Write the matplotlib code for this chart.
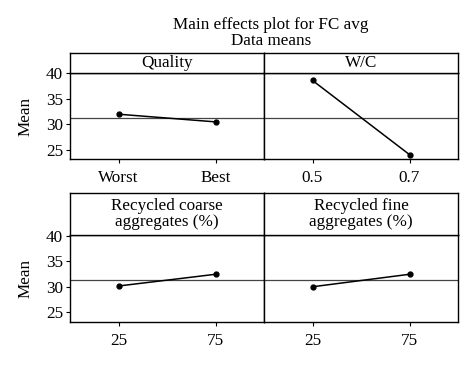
import matplotlib.pyplot as plt

plt.rcParams["font.family"] = ["Liberation Serif", "DejaVu Serif"]

W, H = 474, 367

# data
grand_mean = 31.2
quality_levels = ["Worst", "Best"]
quality_means = [32.0, 30.5]
wc_levels = ["0.5", "0.7"]
wc_means = [38.6, 24.1]
coarse_levels = ["25", "75"]
coarse_means = [30.1, 32.4]
fine_levels = ["25", "75"]
fine_means = [29.95, 32.4]
yticks = [25, 30, 35, 40]

panels = [
    # title, levels, means, row
    ("Quality", quality_levels, quality_means, 0),
    ("W/C", wc_levels, wc_means, 0),
    ("Recycled coarse\naggregates (%)", coarse_levels, coarse_means, 1),
    ("Recycled fine\naggregates (%)", fine_levels, fine_means, 1),
]

# pixel layout: (strip top, strip bottom, data bottom) per row
rows = [(53, 73.3, 158.7), (193.3, 234.5, 321.7)]
ylims = [(23.3, 40.0), (23.1, 40.2)]
cols = [(70, 264), (264, 458)]
fs = 12.3


def px_rect(x0, y0, x1, y1):
    return [x0 / W, 1 - y1 / H, (x1 - x0) / W, (y1 - y0) / H]


fig = plt.figure(figsize=(W / 100, H / 100), dpi=100)

for i, (name, levels, means, row) in enumerate(panels):
    col = i % 2
    x0, x1 = cols[col]
    st, sb, db = rows[row]

    ax = fig.add_axes(px_rect(x0, sb, x1, db))
    ax.axhline(grand_mean, color="#444444", lw=0.9, zorder=1)
    ax.plot(range(len(levels)), means, color="black", lw=1.1,
            marker="o", ms=3.5, zorder=2)
    ax.set_xlim(-0.5, 1.5)
    ax.set_ylim(*ylims[row])
    ax.set_xticks(range(len(levels)))
    ax.set_xticklabels(levels, fontsize=fs)
    ax.tick_params(axis="x", length=3, width=0.8, pad=5)
    ax.set_yticks(yticks)
    if col == 0:
        ax.set_yticklabels([str(t) for t in yticks], fontsize=fs)
        ax.tick_params(axis="y", length=3, width=0.8, pad=2)
        ax.set_ylabel("Mean", fontsize=fs, labelpad=9)
    else:
        ax.tick_params(axis="y", left=False, labelleft=False)
    for s in ax.spines.values():
        s.set_linewidth(1.0)

    sax = fig.add_axes(px_rect(x0, st, x1, sb))
    sax.set_xticks([])
    sax.set_yticks([])
    for s in sax.spines.values():
        s.set_linewidth(1.0)
    sax.text(0.5, 0.5, name, ha="center", va="center", fontsize=fs,
             linespacing=1.05, transform=sax.transAxes)

fig.text(271 / W, 1 - 33 / H, "Main effects plot for FC avg\nData means",
         ha="center", va="center", fontsize=fs, linespacing=1.0)

fig.savefig("out.png", dpi=100)
